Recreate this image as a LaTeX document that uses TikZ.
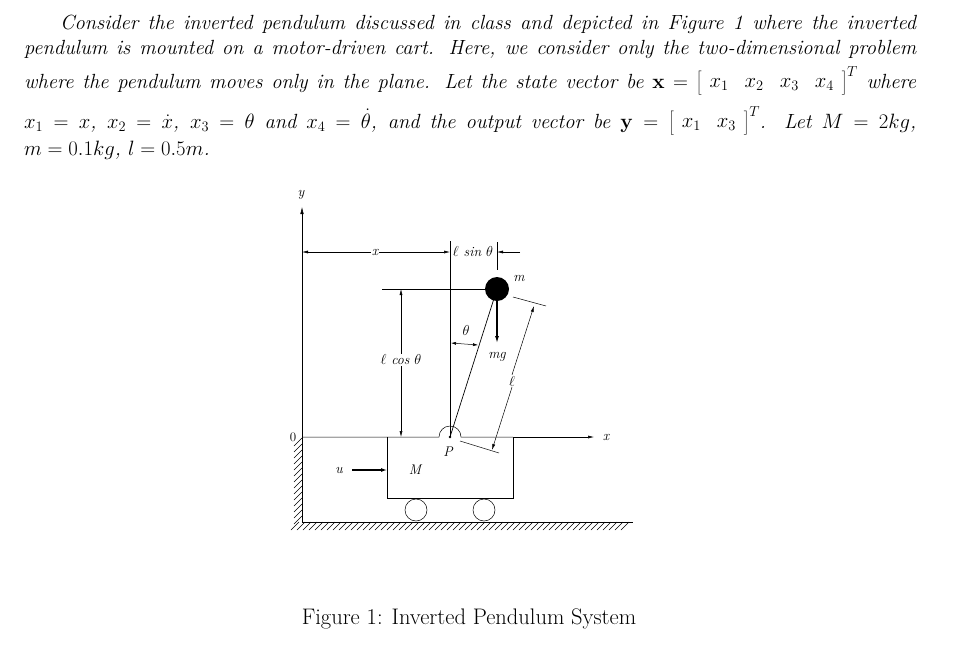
\documentclass[tikz,border=0pt]{standalone}
\usetikzlibrary{arrows.meta}
\begin{document}
\begin{tikzpicture}[x=1pt,y=-1pt,
  lbl/.style={inner sep=1pt,font=\fontsize{14}{16}\selectfont\itshape},
  thin line/.style={line width=0.5pt},
  dim/.style={line width=0.5pt,-{Latex[length=6pt,width=3pt]}},
  line/.style={anchor=base west,inner sep=0pt,font=\fontsize{20.5}{24}\selectfont}]
\useasboundingbox (0,0) rectangle (954,654);
\arraycolsep=8pt
% paragraph
\node[line] (l1) at (24,30) {\parbox{892pt}{\itshape\parfillskip=0pt\hspace*{36pt}Consider the inverted pendulum discussed in class and depicted in Figure 1 where the inverted\par}};
\node[line] (l2) at (24,55) {\parbox{892pt}{\itshape\parfillskip=0pt pendulum is mounted on a motor-driven cart. Here, we consider only the two-dimensional problem\par}};
\node[line] (l3) at (24,86) {\parbox{892pt}{\itshape\parfillskip=0pt where the pendulum moves only in the plane. Let the state vector be $\mathbf{x}=\left[\begin{array}{cccc}x_1&x_2&x_3&x_4\end{array}\right]^T$ where\par}};
\node[line] (l4) at (24,126) {\parbox{892pt}{\itshape\parfillskip=0pt $x_1=x$, $x_2=\dot x$, $x_3=\theta$ and $x_4=\dot\theta$, and the output vector be $\mathbf{y}=\left[\begin{array}{cc}x_1&x_3\end{array}\right]^T$. Let $M=2kg$,\par}};
\node[line] (l5) at (24,155) {\itshape $m=0.1kg$, $l=0.5m$.};
% caption
\node[font=\fontsize{22.5}{26}\selectfont] (cap) at (469,619) {Figure 1: Inverted Pendulum System};
% axes
\coordinate (O) at (302,437);
\coordinate (ytip) at (302,207);
\coordinate (xtip) at (594,437);
\coordinate (G) at (302,522);
\coordinate (Gend) at (633,522);
\draw[thin line,-{Latex[length=7pt,width=3.5pt]}] (G) -- (ytip);
\node[lbl] (ylab) at (301,195) {y};
\node[lbl,font=\fontsize{13}{15}\selectfont] (zero) at (293,437) {0};
\draw[thin line] (G) -- (Gend);
\foreach \i in {0,...,55} \draw[line width=0.4pt] (291+\i*6,530) -- (299+\i*6,522);
\foreach \j in {0,...,13} \draw[line width=0.4pt] (294,446+\j*6) -- (302,438+\j*6);
% cart
\coordinate (P) at (450,437);
\draw[thin line] (O) -- (439,437) arc[start angle=180,end angle=360,radius=11] -- (513,437);
\draw[dim] (513,437) -- (xtip);
\node[lbl] (xax) at (606,437) {x};
\draw[thin line] (387,437) -- (387,498) -- (513,498) -- (513,437);
\node[draw,circle,thin line,minimum size=22pt,inner sep=0pt] (w1) at (416,510) {};
\node[draw,circle,thin line,minimum size=22pt,inner sep=0pt] (w2) at (484,510) {};
\fill (P) circle (1.3pt);
\node[lbl] (Plab) at (448,452) {P};
\node[lbl] (Mlab) at (415,470) {M};
\node[lbl] (ulab) at (339,470) {u};
\coordinate (ua) at (352,470);
\coordinate (ub) at (387,470);
\draw[line width=1.1pt,-{Latex[length=6pt,width=4pt]}] (ua) -- (ub);
% pendulum
\node[circle,fill=black,minimum size=24pt,inner sep=0pt] (ball) at (497,289) {};
\draw[line width=0.7pt] (P) -- (ball.center);
\node[lbl] (mlab) at (519,278) {m};
\draw[line width=1.2pt,-{Latex[length=7pt,width=4pt]}] (497,300) -- (497,343);
\node[lbl] (mg) at (497,357) {mg};
% reference lines
\draw[thin line] (P) -- (450,241);
\draw[thin line] (382,289) -- (ball.west);
\draw[thin line] (497,242) -- (497,270);
% x dimension
\node[lbl] (xlab) at (375,252) {x};
\draw[dim] (xlab.west) -- (302,252);
\draw[dim] (xlab.east) -- (450,252);
\node[lbl] (lsin) at (473,252) {$\ell$ sin $\theta$};
\draw[dim] (520,252) -- (497,252);
% l cos theta
\node[lbl] (lcos) at (401,360) {$\ell$ cos $\theta$};
\draw[dim] (lcos.north) -- (401,289);
\draw[dim] (lcos.south) -- (401,437);
% theta
\node[lbl] (th) at (466,330) {$\theta$};
\draw[thin line,{Latex[length=5pt,width=3pt]}-{Latex[length=5pt,width=3pt]}] (451,343) -- (478,345);
% l dimension
\draw[thin line] (513,297) -- (546,306);
\draw[thin line] (460,441) -- (499,453);
\node[lbl] (llab) at (512,381) {$\ell$};
\draw[dim] (llab.north) -- (534,306);
\draw[dim] (llab.south) -- (492,450);
\end{tikzpicture}
\end{document}
